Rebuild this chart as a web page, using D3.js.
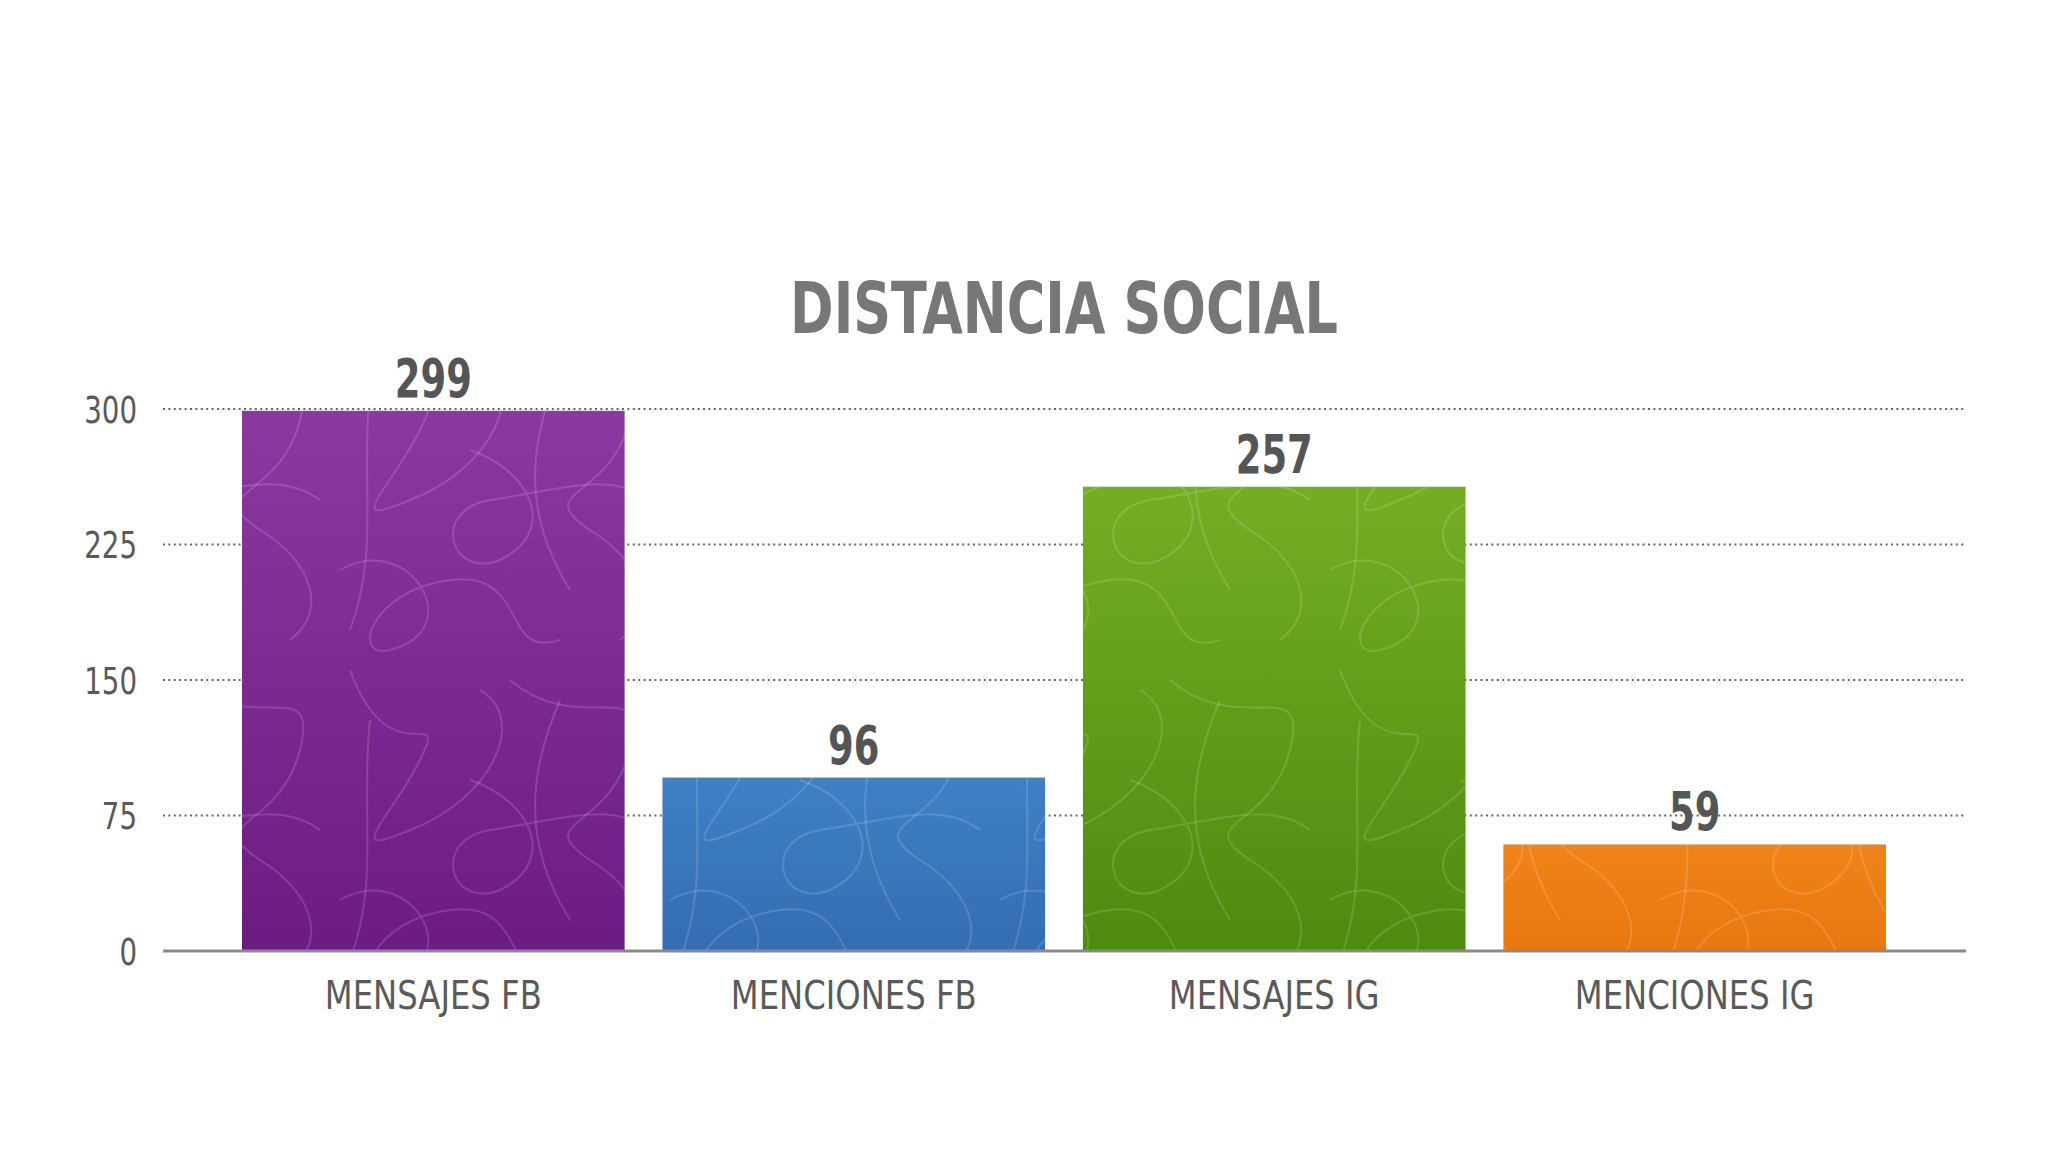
<!DOCTYPE html>
<html>
<head>
<meta charset="utf-8">
<script src="https://cdn.jsdelivr.net/npm/d3@7"></script>
<style>
  body { margin: 0; background: #fff; }
  text { font-family: "DejaVu Sans Condensed", "DejaVu Sans", sans-serif; }
</style>
</head>
<body>
<div id="chart"></div>
<script>
const title = "DISTANCIA SOCIAL";
const categories = ["MENSAJES FB", "MENCIONES FB", "MENSAJES IG", "MENCIONES IG"];
const values = [299, 96, 257, 59];
const yTicks = [0, 75, 150, 225, 300];
// top / bottom colour of each bar gradient
const colorsTop = ["#8d38a1", "#3f80c3", "#75ae23", "#ef8319"];
const colorsBottom = ["#6b1c83", "#346db2", "#4d8a10", "#e8770f"];

const width = 2048, height = 1152;
const margin = { left: 163, right: 84, top: 409, bottom: 201 };

const svg = d3.select("#chart").append("svg")
  .attr("width", width)
  .attr("height", height);

svg.append("rect").attr("width", width).attr("height", height).attr("fill", "#fff");

const defs = svg.append("defs");

categories.forEach((c, i) => {
  const g = defs.append("linearGradient")
    .attr("id", "grad" + i)
    .attr("x1", 0).attr("y1", 0).attr("x2", 0).attr("y2", 1);
  g.append("stop").attr("offset", "0%").attr("stop-color", colorsTop[i]);
  g.append("stop").attr("offset", "100%").attr("stop-color", colorsBottom[i]);
});

// squiggle texture on the bars
const pat = defs.append("pattern")
  .attr("id", "squiggle")
  .attr("patternUnits", "userSpaceOnUse")
  .attr("width", 330).attr("height", 330);
const squiggles = [
  "M20,10 C60,120 120,40 90,100 S10,200 80,170 C160,140 200,60 150,30",
  "M180,20 C250,80 320,10 300,90 S200,160 260,200 C310,230 330,280 290,310",
  "M10,240 C80,200 140,300 60,320 C20,330 40,260 120,250 C200,240 170,330 230,310",
  "M140,120 C200,140 230,200 170,230 C120,250 100,180 160,170 C230,160 280,140 320,170",
  "M40,60 C30,150 50,220 20,300",
  "M230,40 C200,110 190,180 240,260"
];
pat.selectAll("path").data(squiggles).enter().append("path")
  .attr("d", d => d)
  .attr("fill", "none")
  .attr("stroke", "#fff")
  .attr("stroke-opacity", 0.14)
  .attr("stroke-width", 2);

const x = d3.scaleBand()
  .domain(categories)
  .range([242, 1886])
  .paddingInner(0.09)
  .paddingOuter(0);

const y = d3.scaleLinear()
  .domain([0, 300])
  .range([height - margin.bottom, margin.top]);

// gridlines
svg.append("g")
  .selectAll("line")
  .data(yTicks.filter(t => t > 0))
  .enter().append("line")
  .attr("x1", margin.left)
  .attr("x2", width - margin.right)
  .attr("y1", d => y(d))
  .attr("y2", d => y(d))
  .attr("stroke", "#666")
  .attr("stroke-width", 2)
  .attr("stroke-dasharray", "2,3.4");

// y axis labels
const yAxis = d3.axisLeft(y).tickValues(yTicks).tickSize(0).tickPadding(0);
const yg = svg.append("g")
  .attr("transform", `translate(137,0)`)
  .call(yAxis);
yg.select(".domain").remove();
yg.selectAll("text")
  .attr("fill", "#5a5a5a")
  .attr("transform", "scale(0.83,1)")
  .style("font-size", "37px")
  .attr("dy", "0.36em");

// bars
svg.append("g")
  .selectAll("rect")
  .data(values)
  .enter().append("rect")
  .attr("x", (d, i) => x(categories[i]))
  .attr("y", d => y(d))
  .attr("width", x.bandwidth())
  .attr("height", d => y(0) - y(d))
  .attr("fill", (d, i) => `url(#grad${i})`);

svg.append("g")
  .selectAll("rect")
  .data(values)
  .enter().append("rect")
  .attr("x", (d, i) => x(categories[i]))
  .attr("y", d => y(d))
  .attr("width", x.bandwidth())
  .attr("height", d => y(0) - y(d))
  .attr("fill", "url(#squiggle)");

// baseline
svg.append("line")
  .attr("x1", margin.left)
  .attr("x2", width - margin.right + 2)
  .attr("y1", y(0))
  .attr("y2", y(0))
  .attr("stroke", "#8a8a8a")
  .attr("stroke-width", 3);

// value labels
svg.append("g")
  .selectAll("text")
  .data(values)
  .enter().append("text")
  .attr("transform", (d, i) => `translate(${x(categories[i]) + x.bandwidth() / 2},${y(d) - 14}) scale(0.76,1)`)
  .attr("text-anchor", "middle")
  .attr("fill", "#555")
  .style("font-size", "54px")
  .style("font-weight", "bold")
  .text(d => d);

// x axis labels
const xAxis = d3.axisBottom(x).tickSize(0).tickPadding(0);
const xg = svg.append("g")
  .attr("transform", `translate(0,${y(0)})`)
  .call(xAxis);
xg.select(".domain").remove();
xg.selectAll("text")
  .attr("y", 58)
  .attr("dy", 0)
  .attr("fill", "#5a5a5a")
  .style("font-size", "39px")
  .attr("transform", "scale(0.92,1)");

// title
svg.append("text")
  .attr("transform", "translate(1064,333) scale(0.81,1)")
  .attr("text-anchor", "middle")
  .attr("fill", "#777")
  .style("font-size", "72px")
  .style("font-weight", "bold")
  .text(title);
</script>
</body>
</html>
